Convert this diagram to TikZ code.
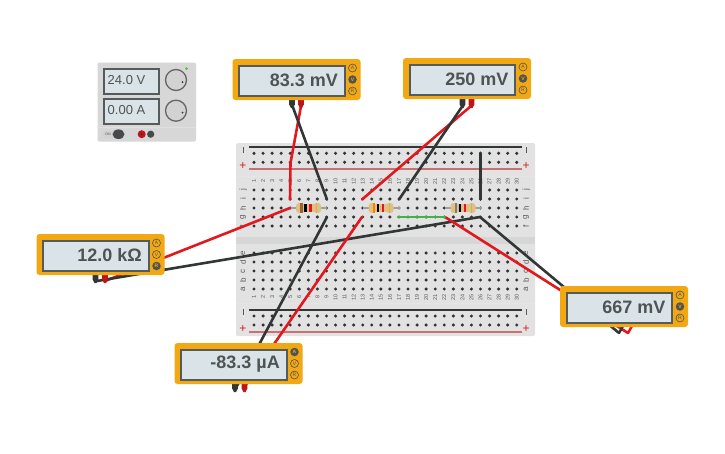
\documentclass[tikz,border=0pt]{standalone}
\usepackage{fontspec}
\setmainfont{Liberation Sans}
\usetikzlibrary{calc}
\definecolor{board}{HTML}{E2E2E2}
\definecolor{band}{HTML}{D6D6D6}
\definecolor{hole}{HTML}{333333}
\definecolor{orng}{HTML}{F2A813}
\definecolor{lcd}{HTML}{DAE4E8}
\definecolor{lcdedge}{HTML}{555A5A}
\definecolor{txt}{HTML}{4E5354}
\definecolor{wred}{HTML}{E1191E}
\definecolor{wblack}{HTML}{333637}
\definecolor{wgreen}{HTML}{3CB44A}
\definecolor{rbody}{HTML}{E2BF82}
\definecolor{railred}{HTML}{C97070}
\tikzset{
  x=1pt,y=-1pt,
  wire/.style={line width=2.6pt,line cap=round},
  redw/.style={wire,wred},
  blackw/.style={wire,wblack},
  greenw/.style={wire,wgreen},
  lab/.style={font=\fontsize{5.5}{6}\selectfont,text=gray!70!black,inner sep=0pt},
  letterlab/.style={font=\fontsize{8}{8}\selectfont,text=gray!70!black,inner sep=0pt,rotate=90},
  signs/.style={font=\fontsize{12}{12}\selectfont,inner sep=0pt},
}
% name, x, y, text, active button (0,1,2)
\newcommand{\meter}[5]{%
  \begin{scope}[shift={(#2,#3)}]
    \fill[orng,rounded corners=3pt] (0,0) rectangle (128,41);
    \node[draw=lcdedge,line width=2pt,fill=lcd,minimum width=105.5pt,minimum height=30.5pt,inner sep=0pt,anchor=north west] (#1d) at (5.5,5.5) {};
    \node[anchor=east,inner sep=0pt,font=\bfseries\fontsize{18}{18}\selectfont,text=txt] (#1t) at (105.5,21) {#4};
    \foreach \yy/\ll/\ii in {9/A/0,20.5/V/1,32/R/2}{
      \ifnum\ii=#5\relax
        \node[circle,fill=txt,minimum size=8.5pt,inner sep=0pt,font=\bfseries\fontsize{5}{5}\selectfont,text=orng] at (120,\yy) {\ll};
      \else
        \node[circle,draw=txt,line width=.6pt,minimum size=8pt,inner sep=0pt,font=\fontsize{5}{5}\selectfont,text=txt] at (120,\yy) {\ll};
      \fi
    }
  \end{scope}}
% probe caps: x, y(top), colour
\newcommand{\probecap}[3]{%
  \fill[#3] (#1-2.9,#2) -- (#1+2.9,#2) -- (#1+2.9,#2+5.5) -- (#1+1,#2+9) -- (#1-1,#2+9) -- (#1-2.9,#2+5.5) -- cycle;}
\newcommand{\resistor}[5]{%
  \begin{scope}[shift={(#1,208)}]
    \draw[gray!75,line width=2pt] (-18.5,0) -- (18.5,0);
    \fill[rbody,rounded corners=3pt] (-12.5,-5) rectangle (-5,5);
    \fill[rbody,rounded corners=3pt] (5,-5) rectangle (12.5,5);
    \fill[rbody] (-7,-4) rectangle (7,4);
    \fill[#2] (-8.5,-4.7) rectangle (-5.8,4.7);
    \fill[#3] (-4.5,-4) rectangle (-1.8,4);
    \fill[#4] (0.5,-4) rectangle (3.2,4);
    \fill[#5] (7.5,-4.8) rectangle (8.7,4.8);
  \end{scope}}
\begin{document}
\begin{tikzpicture}
\useasboundingbox (0,0) rectangle (725,453);
\fill[white] (0,0) rectangle (725,453);
% ---------- breadboard
\fill[board,rounded corners=2pt] (236,143) rectangle (535,336);
\fill[band] (236,237) rectangle (535,244);
\draw[white!90!black,line width=1pt] (236,176.5) -- (535,176.5) (236,303) -- (535,303);
\draw[wblack,line width=1.1pt] (249,147) -- (522,147) (249,310) -- (522,310);
\draw[railred,line width=1.6pt] (249,169) -- (522,169) (249,332) -- (522,332);
\foreach \i in {0,...,29}{
  \pgfmathsetmacro{\xx}{254+9.06*\i}
  \foreach \yy in {153.3,162.3,190,199,208,217,226,253,262,271,280,289,316,325}{
    \fill[hole] (\xx,\yy) circle (1.7pt);
  }
  \pgfmathtruncatemacro{\nn}{\i+1}
  \node[lab,rotate=90] at (\xx,181) {\nn};
  \node[lab,rotate=90] at (\xx,297) {\nn};
}
\foreach \yy/\ll in {190/j,199/i,208/h,217/g,226/f,253/e,262/d,271/c,280/b,289/a}{
  \node[letterlab] at (243,\yy) {\ll};
  \node[letterlab] at (526,\yy) {\ll};
}
\foreach \xx in {243,526}{
  \draw[gray!70!black,line width=1pt] (\xx,147) -- (\xx,153) (\xx,309) -- (\xx,315);
  \node[signs,text=wred] at (\xx,166) {+};
  \node[signs,text=wred] at (\xx,329) {+};
}
% ---------- coordinates of the holes used
\coordinate (Aa) at (290,199.5);
\coordinate (Ab) at (327,199.5);
\coordinate (Ac) at (290,208);
\coordinate (Ad) at (327,217);
\coordinate (Ae) at (362,199.5);
\coordinate (Af) at (399,199.5);
\coordinate (Ag) at (362,217);
\coordinate (Ah) at (398,217);
\coordinate (Ai) at (445,217);
\coordinate (Aj) at (480,217);
\coordinate (Ak) at (480.5,153);
\coordinate (Al) at (480.5,199.5);
\coordinate (bend) at (290.5,163);
% ---------- resistors
\resistor{308.5}{brown!80!black}{black}{wred}{gray!60!yellow}
\resistor{381}{orange}{black}{wred}{gray!60!yellow}
\resistor{463}{gray}{black}{wred}{gray!60!yellow}
% ---------- meter probe ends
\coordinate (m1k) at (292.5,106); \coordinate (m1r) at (301,106);
\coordinate (m2k) at (462.5,106); \coordinate (m2r) at (471,106);
\coordinate (m3k) at (97,281);    \coordinate (m3r) at (105,281);
\coordinate (m4k) at (619,333);   \coordinate (m4r) at (628,333);
\coordinate (m5k) at (237,386);   \coordinate (m5r) at (245,386);
% ---------- wires
\draw[redw] (m1r) -- (bend) -- (Aa);
\draw[blackw] (m1k) -- (Ab);
\draw[redw] (m2r) -- (Ae);
\draw[blackw] (m2k) -- (Af);
\draw[redw] (m3r) -- (Ac);
\draw[blackw] (m3k) -- (Aj);
\draw[blackw] (Aj) -- (m4k);
\draw[redw] (Ai) -- (m4r);
\draw[blackw] (Ad) -- (m5k);
\draw[redw] (Ag) -- (m5r);
\draw[greenw] (Ah) -- (Ai);
\draw[blackw] (Ak) -- (Al);
% ---------- probes
\probecap{292}{99}{wblack}
\probecap{301}{99}{wred!85!black}
\probecap{462.5}{99}{wblack}
\probecap{471.5}{99}{wred!85!black}
\probecap{95.5}{274}{wblack}
\probecap{105}{274}{wred!85!black}
\probecap{235}{383}{wblack}
\probecap{244.5}{383}{wred!85!black}
\draw[wred,line width=2.5pt,line cap=round] (m4r) -- (632,326);
\draw[wblack,line width=2.5pt,line cap=round] (m4k) -- (623,326);
% ---------- meters
\meter{a}{232.5}{59}{83.3 mV}{1}
\meter{b}{403}{58}{250 mV}{1}
\meter{c}{36.5}{234}{12.0 kΩ}{2}
\meter{d}{560}{286}{667 mV}{1}
\meter{e}{174.5}{343}{-83.3 µA}{0}
% ---------- power supply
\fill[board!95!black,rounded corners=2pt] (97.5,62.5) rectangle (196,141.5);
\draw[white!88!black,line width=1pt] (97.5,127) -- (196,127);
\node[draw=lcdedge,line width=2pt,fill=lcd,minimum width=55.5pt,minimum height=25pt,inner sep=0pt,anchor=north west] (ps1) at (102.5,67.5) {};
\node[draw=lcdedge,line width=2pt,fill=lcd,minimum width=55.5pt,minimum height=25pt,inner sep=0pt,anchor=north west] (ps2) at (102.5,97.5) {};
\node[anchor=west,inner sep=0pt,font=\fontsize{13}{13}\selectfont,text=txt] at (107.5,80) {24.0 V};
\node[anchor=west,inner sep=0pt,font=\fontsize{13}{13}\selectfont,text=txt] at (107.5,110) {0.00 A};
\foreach \yy in {80,110.7}{
  \draw[gray!80!black,fill=gray!35,line width=1.3pt] (176,\yy) circle (10.5pt);
  \fill[hole] (182.5,\yy+2) circle (1pt);
}
\fill[wgreen!80!lime] (186.5,68.5) circle (1.5pt);
\fill[gray!35,rounded corners=3.5pt] (102,130.5) rectangle (122,138);
\node[font=\fontsize{3.5}{4}\selectfont,text=txt,inner sep=0pt] at (108,134.2) {ON};
\fill[wblack!90!white] (118.5,134.2) ellipse (6pt and 4.8pt);
\fill[wred!85!black] (141.7,134.2) circle (4pt);
\fill[wblack!90!white] (150.7,134.2) circle (3.6pt);
\fill[hole] (141.7,134.2) circle (1pt);
\end{tikzpicture}
\end{document}
